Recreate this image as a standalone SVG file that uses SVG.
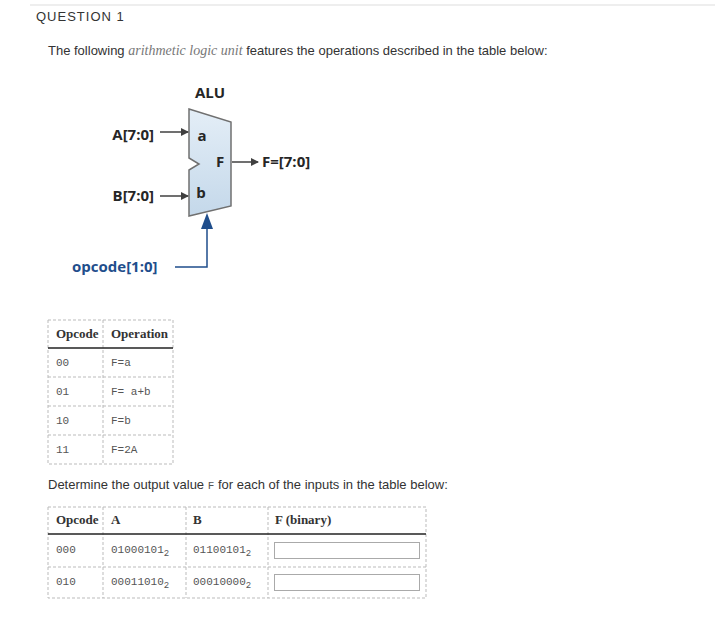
<svg xmlns="http://www.w3.org/2000/svg" width="715" height="626" viewBox="0 0 715 626">
<defs>
<marker id="ag" markerWidth="8" markerHeight="8" refX="7" refY="4" orient="auto" markerUnits="userSpaceOnUse"><path d="M0,0 L8,4 L0,8 z" fill="#404040"/></marker>
<marker id="ab" markerWidth="10" markerHeight="10" refX="5" refY="1" orient="auto" markerUnits="userSpaceOnUse"><path d="M0,0 L10,0 L5,0 z" fill="#1f4e8c"/></marker>
<linearGradient id="g" x1="0" y1="0" x2="0" y2="1"><stop offset="0" stop-color="#e4eef7"/><stop offset="1" stop-color="#c4d8ea"/></linearGradient>
</defs>
<style>
.s{font-family:"Liberation Sans",Arial,sans-serif;font-size:13px;fill:#333}
.b{font-family:"Open Sans","DejaVu Sans",sans-serif;font-weight:bold;font-size:15px;fill:#262626}
.h{font-family:"Liberation Serif",serif;font-weight:bold;font-size:13px;fill:#333}
.m{font-family:"Liberation Mono",monospace;font-size:11px;fill:#555}
.d{stroke:#bbb;stroke-dasharray:3,2;fill:none}
.k{stroke:#222;stroke-width:1.5}
.w{stroke:#404040;stroke-width:1.5;fill:none}
</style>
<rect width="715" height="626" fill="#fff"/>
<line x1="30" y1="5" x2="715" y2="5" stroke="#ddd"/>
<text x="36" y="21" class="s" style="letter-spacing:1px;font-size:13px" fill="#333">QUESTION 1</text>
<text x="48" y="55" class="s">The following <tspan font-family="Liberation Serif,serif" font-style="italic" fill="#777" font-size="14">arithmetic logic unit</tspan> features the operations described in the table below:</text>
<g id="alu">
<text x="210" y="98" class="b" text-anchor="middle" font-size="17">ALU</text>
<path d="M189,109 L231,122 L231,206 L189,216 L189,170 L199,164 L189,158 Z" fill="url(#g)" stroke="#707070" stroke-width="1.5"/>
<text x="202" y="141" class="b" text-anchor="middle">a</text>
<text x="220" y="167" class="b" text-anchor="middle">F</text>
<text x="201" y="198" class="b" text-anchor="middle">b</text>
</g>
<g id="labels">
<text x="154" y="140" class="b" text-anchor="end">A[7:0]</text>
<text x="154" y="201" class="b" text-anchor="end">B[7:0]</text>
<text x="262" y="167" class="b">F=[7:0]</text>
<text x="72" y="272" class="b" fill="#1f4e8c" style="fill:#1f4e8c" font-size="16">opcode[1:0]</text>
</g>
<g id="connectors">
<line x1="160" y1="132" x2="188" y2="132" class="w" marker-end="url(#ag)"/>
<line x1="160" y1="196" x2="188" y2="196" class="w" marker-end="url(#ag)"/>
<line x1="232" y1="162" x2="258" y2="162" class="w" marker-end="url(#ag)"/>
<polyline points="175,267 207,267 207,228" fill="none" stroke="#1f4e8c" stroke-width="1.5"/>
<path d="M201,229 L213,229 L207,213 Z" fill="#1f4e8c"/>
</g>
<g id="table1">
<rect x="48" y="320" width="125" height="144" class="d"/>
<line x1="103" y1="320" x2="103" y2="464" class="d"/>
<line x1="48" y1="377" x2="173" y2="377" class="d"/>
<line x1="48" y1="406" x2="173" y2="406" class="d"/>
<line x1="48" y1="435" x2="173" y2="435" class="d"/>
<line x1="48" y1="348" x2="173" y2="348" class="k"/>
<text x="56" y="338" class="h">Opcode</text>
<text x="111" y="338" class="h">Operation</text>
<text x="56" y="366" class="m">00</text><text x="111" y="366" class="m">F=a</text>
<text x="56" y="395" class="m">01</text><text x="111" y="395" class="m" xml:space="preserve">F= a+b</text>
<text x="56" y="424" class="m">10</text><text x="111" y="424" class="m">F=b</text>
<text x="56" y="453" class="m">11</text><text x="111" y="453" class="m">F=2A</text>
</g>
<text x="48" y="489" class="s">Determine the output value <tspan class="m" font-size="11">F</tspan> for each of the inputs in the table below:</text>
<g id="table2">
<rect x="48" y="507" width="378" height="91" class="d"/>
<line x1="103" y1="507" x2="103" y2="598" class="d"/>
<line x1="186" y1="507" x2="186" y2="598" class="d"/>
<line x1="268" y1="507" x2="268" y2="598" class="d"/>
<line x1="48" y1="567" x2="426" y2="567" class="d"/>
<line x1="48" y1="534" x2="426" y2="534" class="k"/>
<text x="56" y="524" class="h">Opcode</text>
<text x="111" y="524" class="h">A</text>
<text x="193" y="524" class="h">B</text>
<text x="275" y="524" class="h">F (binary)</text>
<text x="56" y="553" class="m">000</text>
<text x="111" y="553" class="m">01000101<tspan font-size="9" dy="3">2</tspan></text>
<text x="193" y="553" class="m">01100101<tspan font-size="9" dy="3">2</tspan></text>
<rect x="274.5" y="542.5" width="145" height="16" fill="#fff" stroke="#aaa"/>
<text x="56" y="585" class="m">010</text>
<text x="111" y="585" class="m">00011010<tspan font-size="9" dy="3">2</tspan></text>
<text x="193" y="585" class="m">00010000<tspan font-size="9" dy="3">2</tspan></text>
<rect x="274.5" y="574.5" width="145" height="16" fill="#fff" stroke="#aaa"/>
</g>
</svg>
